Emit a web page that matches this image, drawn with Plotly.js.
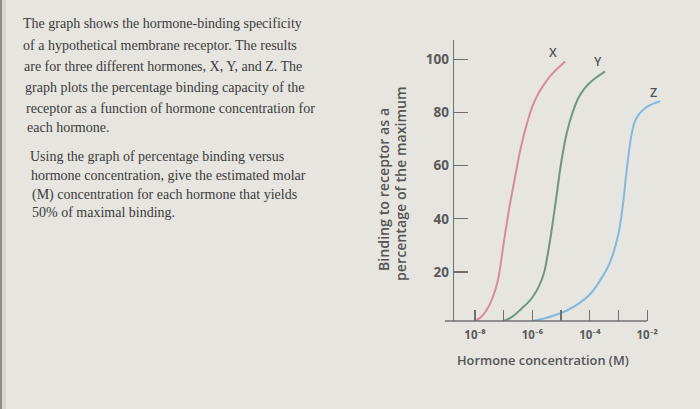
<!DOCTYPE html>
<html>
<head>
<meta charset="utf-8">
<script src="https://cdn.plot.ly/plotly-3.0.1.min.js"></script>
<style>html,body{margin:0;padding:0;background:#e6e5e0;}#chart{width:700px;height:409px;}</style>
</head>
<body>
<div id="chart"></div>
<script>
// log10 of hormone concentration (M) and % binding
const logConcX = [-8.0, -7.8, -7.6, -7.4, -7.2, -7.0, -6.8, -6.6, -6.4, -6.2, -6.0, -5.8, -5.6, -5.4, -5.2, -5.0, -4.86];
const bindX    = [1.6, 3.0, 5.6, 10, 17, 31, 44.5, 56, 67, 75.5, 82.3, 87, 90.5, 93.4, 95.8, 97.8, 99.2];
const logConcY = [-7.0, -6.8, -6.6, -6.4, -6.2, -6.0, -5.8, -5.6, -5.4, -5.2, -5.0, -4.8, -4.6, -4.4, -4.2, -4.0, -3.8, -3.6, -3.47];
const bindY    = [1.6, 2.5, 4, 6, 8, 10.5, 14, 19.5, 31, 45.5, 61, 72.5, 80, 85.5, 88.8, 91.2, 93, 94.5, 95.5];
const logConcZ = [-6.0, -5.6, -5.2, -4.8, -4.4, -4.0, -3.6, -3.3, -3.0, -2.85, -2.75, -2.65, -2.55, -2.45, -2.3, -2.1, -1.9, -1.7, -1.55];
const bindZ    = [1.6, 2.5, 3.8, 5.5, 8, 11.5, 17.5, 23.5, 34.5, 45, 55, 64, 71.5, 76, 79.2, 81.4, 82.8, 83.7, 84.3];
const seriesNames = ["X", "Y", "Z"];
const xMajorExps = [-8, -6, -4, -2];
const xMajorLabels = ["10⁻⁸", "10⁻⁶", "10⁻⁴", "10⁻²"];
const xMinorExps = [-7, -5, -3];
const yTickVals = [20, 40, 60, 80, 100];
const xAxisTitle = "Hormone concentration (M)";
const yAxisTitleLines = ["Binding to receptor as a", "percentage of the maximum"];
const para1 = [
  "The graph shows the hormone-binding specificity",
  "of a hypothetical membrane receptor. The results",
  "are for three different hormones, X, Y, and Z. The",
  "graph plots the percentage binding capacity of the",
  "receptor as a function of hormone concentration for",
  "each hormone."
];
const para2 = [
  "Using the graph of percentage binding versus",
  "hormone concentration, give the estimated molar",
  "(M) concentration for each hormone that yields",
  "50% of maximal binding."
];

// layout geometry (pixels)
const W = 700, H = 409;
const M = {l: 454, r: 35, t: 40, b: 88};
const PW = W - M.l - M.r, PH = H - M.t - M.b;
const xRange = [-8.733, -1.38];
const yRange = [1.55, 107.3];
const px = x => (x - M.l) / PW;
const py = y => (H - M.b - y) / PH;

const colors = ["#d98a9c", "#6d987d", "#84b8dc"];
const xs = [logConcX, logConcY, logConcZ];
const ys = [bindX, bindY, bindZ];

const traces = xs.map((x, i) => ({
  x: x, y: ys[i], type: "scatter", mode: "lines", name: seriesNames[i],
  line: {color: colors[i], width: 2, shape: "spline", smoothing: 0.9},
  hoverinfo: "skip"
}));

const chartFont = "Open Sans, Lato, sans-serif";
const textGray = "#555555";
const annotations = [];
// series labels near the end of each curve
const labelShift = [[-12, 9], [-7, 10], [-7, 9]];
xs.forEach((x, i) => {
  annotations.push({
    x: x[x.length - 1], y: ys[i][ys[i].length - 1], xref: "x", yref: "y",
    text: seriesNames[i], showarrow: false,
    xshift: labelShift[i][0], yshift: labelShift[i][1],
    font: {family: chartFont, size: 12.5, color: textGray, weight: 600}
  });
});
// axis titles
annotations.push({x: px(542.5), y: py(359.5), xref: "paper", yref: "paper", text: xAxisTitle,
  showarrow: false, xanchor: "center", yanchor: "middle",
  font: {family: chartFont, size: 12.8, color: textGray, weight: 600}});
const yTitleX = [383, 400], yTitleY = [190, 184];
yAxisTitleLines.forEach((t, i) => annotations.push({x: px(yTitleX[i]), y: py(yTitleY[i]), xref: "paper", yref: "paper",
  text: t, showarrow: false, textangle: -90, xanchor: "center", yanchor: "middle",
  font: {family: chartFont, size: 14.2, color: textGray, weight: 600}}));
// question text
const serif = "Liberation Serif, Times New Roman, serif";
const p1y = [24, 45, 66, 87, 108, 127.5], p1x = [20.7, 21, 22, 23.3, 24.3, 25];
para1.forEach((t, i) => annotations.push({x: px(p1x[i]), y: py(p1y[i]), xref: "paper", yref: "paper",
  text: t, showarrow: false, xanchor: "left", yanchor: "middle",
  font: {family: serif, size: 14, color: "#3b3b3b"}}));
const p2y = [156, 175.5, 195, 212], p2x = [28, 29.3, 29.7, 30];
para2.forEach((t, i) => annotations.push({x: px(p2x[i]), y: py(p2y[i]), xref: "paper", yref: "paper",
  text: t, showarrow: false, xanchor: "left", yanchor: "middle",
  font: {family: serif, size: 14, color: "#3b3b3b"}}));

const axisGray = "#707070";
const layout = {
  width: W, height: H, margin: M,
  paper_bgcolor: "#e6e5e0", plot_bgcolor: "rgba(0,0,0,0)",
  showlegend: false,
  xaxis: {
    range: xRange, tickmode: "array", tickvals: xMajorExps, ticktext: xMajorLabels,
    ticks: "inside", ticklen: 11, tickwidth: 1.3, tickcolor: axisGray, ticklabelstandoff: 5,
    minor: {tickmode: "array", tickvals: xMinorExps, ticks: "inside", ticklen: 11, tickwidth: 1.3, tickcolor: axisGray, showgrid: false},
    showline: false, showgrid: false, zeroline: false, fixedrange: true,
    tickfont: {family: chartFont, size: 11.5, color: "#5a5a5a", weight: 700}
  },
  yaxis: {
    range: yRange, tickmode: "array", tickvals: yTickVals,
    ticks: "inside", ticklen: 14, tickwidth: 1.3, tickcolor: axisGray, ticklabelstandoff: 1,
    showline: true, linecolor: axisGray, linewidth: 1.3,
    showgrid: false, zeroline: false, fixedrange: true,
    tickfont: {family: chartFont, size: 13.5, color: "#5a5a5a", weight: 700}
  },
  shapes: [
    {type: "line", xref: "paper", yref: "paper",
     x0: px(M.l - 9), x1: (xMajorExps[xMajorExps.length - 1] - xRange[0]) / (xRange[1] - xRange[0]),
     y0: 0, y1: 0, line: {color: axisGray, width: 1.3}},
    {type: "rect", xref: "paper", yref: "paper", x0: px(0), x1: px(2), y0: py(H), y1: py(0),
     fillcolor: "#8e8d88", line: {width: 0}, layer: "below"},
    {type: "rect", xref: "paper", yref: "paper", x0: px(2), x1: px(6), y0: py(H), y1: py(0),
     fillcolor: "#d6d5cf", line: {width: 0}, layer: "below"}
  ],
  annotations: annotations
};

Plotly.newPlot("chart", traces, layout, {staticPlot: true, displayModeBar: false});
</script>
</body>
</html>
